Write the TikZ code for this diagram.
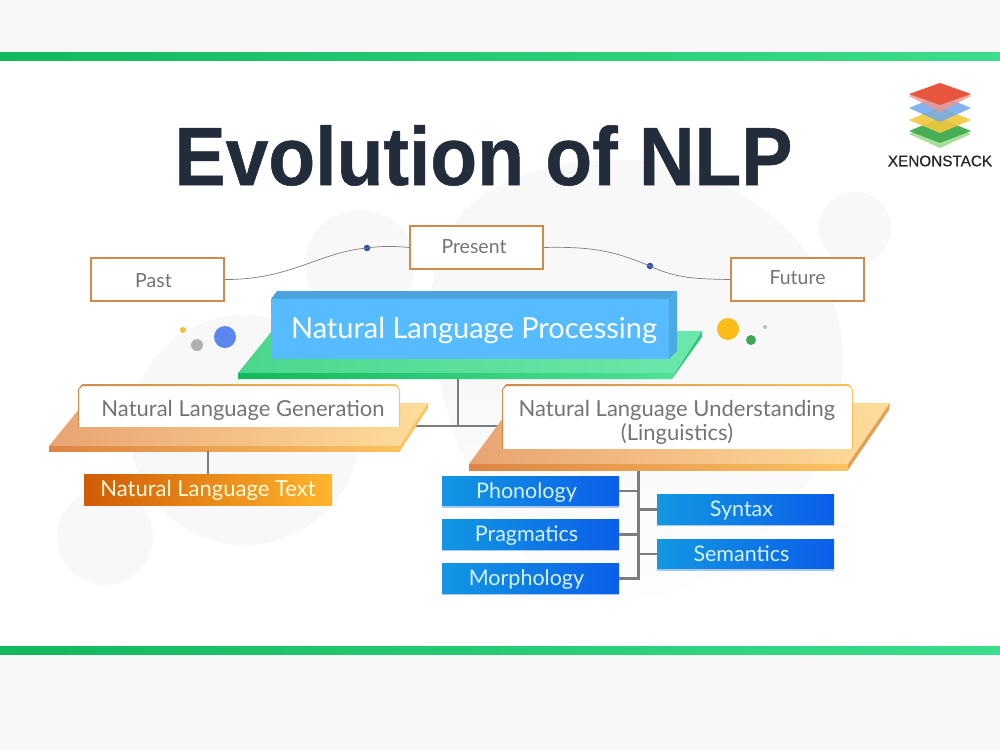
\documentclass[tikz,border=0pt]{standalone}
\usepackage{fontspec}
\setmainfont{Lato}
\newfontfamily\titlefont[FakeStretch=0.93,FakeBold=0.6]{Liberation Sans}
\newfontfamily\logofont[FakeBold=0.5]{Liberation Sans}
\definecolor{bgpale}{HTML}{F8F8F8}
\definecolor{blobc}{HTML}{F8F8F9}
\definecolor{blobfade}{HTML}{FDFDFD}
\definecolor{bandL}{HTML}{12B85C}
\definecolor{bandR}{HTML}{3BDD8C}
\definecolor{inkdark}{HTML}{222C3A}
\definecolor{textgrey}{HTML}{727477}
\definecolor{trunkc}{HTML}{7C7C7C}
\definecolor{boxedge}{HTML}{CF8A4C}
\definecolor{platL}{HTML}{E8A472}
\definecolor{platR}{HTML}{FFDD9A}
\definecolor{platDL}{HTML}{DD8444}
\definecolor{platDR}{HTML}{FBC35F}
\definecolor{blueL}{HTML}{1298E2}
\definecolor{blueR}{HTML}{0B5EE8}
\definecolor{boxshadow}{HTML}{A9C6EE}
\definecolor{bluetext}{HTML}{D2F2FF}
\definecolor{nlpfront}{HTML}{56BBFF}
\definecolor{nlptop}{HTML}{4BA5DC}
\definecolor{nlpside}{HTML}{4BA9E4}
\definecolor{greenL}{HTML}{4CD68C}
\definecolor{greenR}{HTML}{6BE8AA}
\definecolor{dotA}{HTML}{F7BE35}
\definecolor{dotB}{HTML}{B0B0B0}
\definecolor{dotC}{HTML}{5B86EE}
\definecolor{dotD}{HTML}{FBBC17}
\definecolor{dotE}{HTML}{3FA854}
\definecolor{dotF}{HTML}{BDBDBD}
\definecolor{textL}{HTML}{D05C06}
\definecolor{textR}{HTML}{FFB52E}
\definecolor{timedot}{HTML}{2F4DB8}
\definecolor{logoRed}{HTML}{E8553F}
\definecolor{logoRedL}{HTML}{F2938A}
\definecolor{logoBlue}{HTML}{6FA8EE}
\definecolor{logoYellow}{HTML}{F2C83C}
\definecolor{logoGreen}{HTML}{3FA84F}
\definecolor{logoGreenL}{HTML}{A8DE9C}
\tikzset{
  x=1pt,y=-1pt,
  timebox/.style={draw=boxedge,line width=1.4pt,fill=white,minimum width=133pt,minimum height=43pt,inner sep=0pt,text=textgrey,font=\fontsize{19.5}{22}\selectfont},
  bluebox/.style={minimum width=177pt,minimum height=30pt,inner sep=0pt,left color=blueL,right color=blueR,text=bluetext,font=\fontsize{21.5}{24}\selectfont,text height=16pt,text depth=2pt},
  trunk/.style={draw=trunkc,line width=2.5pt},
  timeline/.style={draw=black!50,line width=0.7pt},
  tdot/.style={circle,fill=timedot,minimum size=6.5pt,inner sep=0pt},
  cardtext/.style={text=textgrey,font=\fontsize{22}{24.5}\selectfont,align=center,inner sep=0pt},
  blob/.style={fill=blobc,draw=none},
}
\begin{document}
\begin{tikzpicture}
\useasboundingbox (0,0) rectangle (1000,750);
\fill[white] (0,0) rectangle (1000,750);
\fill[bgpale] (0,0) rectangle (1000,52);
\fill[bgpale] (0,654) rectangle (1000,750);
\shade[left color=bandL,right color=bandR] (0,52) rectangle (1000,60);
\shade[left color=bandL,right color=bandR] (0,646) rectangle (1000,654);
% background blobs
\shade[top color=blobc,bottom color=blobfade,middle color=blobc] (432,300) .. controls (432,210) and (500,165) .. (610,160)
  .. controls (720,155) and (843,240) .. (843,360)
  .. controls (843,480) and (740,600) .. (620,600)
  .. controls (520,600) and (432,450) .. (432,300) -- cycle;
\fill[blob] (855,228) circle[radius=36];
\fill[blob] (105,537) circle[radius=48];
\fill[blob] (360,265) circle[radius=55];
\fill[blob] (245,430) circle[radius=115];
% title
\node[anchor=base,inner sep=0pt,text=inkdark,font=\titlefont\bfseries\fontsize{82.5}{90}\selectfont] (title) at (483.5,185) {Evolution of NLP};
% logo
\fill[logoGreenL] (909,134)--(940,120)--(971,134)--(940,148)--cycle;
\fill[logoGreen,opacity=.9] (909,131)--(940,118)--(971,131)--(940,143)--cycle;
\fill[logoYellow,opacity=.9] (909,120)--(940,107)--(971,120)--(940,133)--cycle;
\fill[logoBlue,opacity=.85] (909,108)--(940,95)--(971,108)--(940,122)--cycle;
\fill[logoRedL,opacity=.8] (909,96)--(940,83)--(971,96)--(940,112)--cycle;
\fill[logoRed] (909,94)--(940,83)--(971,94)--(940,105)--cycle;
\node[inner sep=0pt,font=\logofont\fontsize{15.3}{17}\selectfont,text=black!85] (logo) at (940,161) {XENONSTACK};
% trunk lines
\coordinate (trunktop) at (458,378);
\coordinate (trunkfork) at (458,426);
\coordinate (forkL) at (400,426);
\coordinate (forkR) at (510,426);
\draw[trunk] (trunktop) -- (trunkfork);
\draw[trunk] (forkL) -- (forkR);
% green platform
\shade[left color=greenL,right color=greenR] (238,373)--(272,331)--(702,331)--(675,373)--cycle;
\shade[left color=bandL,right color=bandR!90!white] (238,373)--(675,373)--(672,379)--(238,379)--cycle;
\fill[bandR!90!black] (675,373)--(702,331)--(702,337)--(672,379)--cycle;
% blue 3D box
\fill[nlptop] (271,299)--(277,291)--(677,291)--(669,299)--cycle;
\fill[nlpside] (669,299)--(677,291)--(677,351)--(669,359)--cycle;
\node[fill=nlpfront,minimum width=398pt,minimum height=60pt,inner sep=0pt,text=white,font=\fontsize{29}{32}\selectfont,text height=20pt,text depth=2pt] (nlp) at (470,329) {\hspace*{8pt}Natural Language Processing};
% time boxes
\node[timebox,text height=16pt,text depth=1pt] (past) at (157.5,279.5) {\hspace*{-8pt}Past};
\node[timebox,text height=14pt,text depth=3pt] (present) at (476.5,247.5) {\hspace*{-5pt}Present};
\node[timebox,text height=14pt,text depth=5pt] (future) at (797.5,279.5) {Future};
\node[tdot] (d1) at (367,248) {};
\node[tdot] (d2) at (650,266) {};
\draw[timeline] (past.east) .. controls (290,280) and (320,252) .. (d1.center) .. controls (380,246) and (395,246) .. (present.west);
\draw[timeline] (present.east) .. controls (600,246) and (620,254) .. (d2.center) .. controls (675,278) and (695,279) .. (future.west);
% decor dots
\fill[dotA] (183,330) circle[radius=3];
\fill[dotB] (197,345) circle[radius=6];
\fill[dotC] (225,337) circle[radius=11];
\fill[dotD] (728,329) circle[radius=11];
\fill[dotE] (751,340) circle[radius=5];
\fill[dotF] (765,327) circle[radius=2];
% NLG platform and card
\shade[left color=platL,right color=platR] (49,446)--(84,403)--(428,403)--(400,446)--cycle;
\shade[left color=platDL,right color=platDR] (49,446)--(400,446)--(400,451)--(49,451)--cycle;
\fill[platDR] (400,446)--(428,403)--(428,408)--(400,451)--cycle;
\node[fill=white,minimum width=322pt,minimum height=43pt,inner sep=0pt] (nlgcard) at (239,405.5) {};
\shade[left color=boxedge,right color=platDR] (78,427) -- (78,389) to[out=-90,in=180] (83,384) -- (395,384) to[out=0,in=-90] (400,389) -- (400,427) -- (399,427) -- (399,389) to[out=-90,in=0] (395,386) -- (83,386) to[out=180,in=-90] (79,389) -- (79,427) -- cycle;
\node[cardtext] (nlgtext) at (243,410) {Natural Language Generation};
% NLU platform and card
\draw[trunk] (638.5,470) -- (638.5,578.5);
\shade[left color=platL,right color=platR] (469,464)--(514,403)--(890,403)--(848,464)--cycle;
\shade[left color=platDL,right color=platDR] (469,464)--(848,464)--(848,470)--(469,470)--cycle;
\fill[boxedge!60!platDR] (848,464)--(890,403)--(889,410)--(848,470)--cycle;
\node[fill=white,minimum width=351pt,minimum height=65pt,inner sep=0pt] (nlucard) at (677.5,416.5) {};
\shade[left color=boxedge,right color=platDR] (502,449) -- (502,389) to[out=-90,in=180] (507,384) -- (848,384) to[out=0,in=-90] (853,389) -- (853,449) -- (852,449) -- (852,389) to[out=-90,in=0] (848,386) -- (507,386) to[out=180,in=-90] (503,389) -- (503,449) -- cycle;
\node[cardtext] (nlutext) at (677,422.5) {Natural Language Understanding\\(Linguistics)};
% NL Text
\node[minimum width=248pt,minimum height=31pt,inner sep=0pt,left color=textL,right color=textR,text=white!85!yellow,font=\fontsize{22}{24}\selectfont,text height=16pt,text depth=2pt] (nlt) at (208,489.5) {Natural Language Text};
\draw[trunk] (208,451) -- (nlt.north);
% blue boxes
\node[bluebox] (phon) at (530.5,491) {\hspace*{-8pt}Phonology};
\node[bluebox] (prag) at (530.5,534.5) {\hspace*{-8pt}Pragmatics};
\node[bluebox] (morph) at (530.5,578.5) {\hspace*{-8pt}Morphology};
\node[bluebox] (syn) at (745.5,509.5) {\hspace*{-8pt}Syntax};
\node[bluebox] (sem) at (745.5,554) {\hspace*{-8pt}Semantics};
\foreach \boxname in {phon,prag,morph,syn,sem}
  \fill[boxshadow] (\boxname.south west) rectangle ([yshift=-1.5pt]\boxname.south east);
\draw[trunk] (phon.east) -- (638.5,491);
\draw[trunk] (prag.east) -- (638.5,534.5);
\draw[trunk] (morph.east) -- (639.7,578.5);
\draw[trunk] (syn.west) -- (638.5,509.5);
\draw[trunk] (sem.west) -- (638.5,554);
\end{tikzpicture}
\end{document}
